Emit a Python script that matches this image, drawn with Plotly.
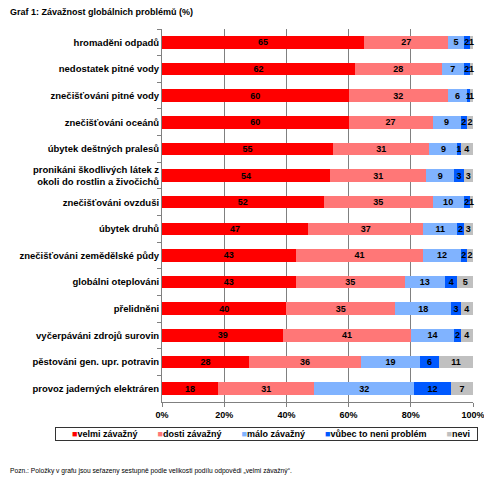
import plotly.graph_objects as go

# položky seřazené podle "velmi závažný"
polozky = [
    "hromadĕni odpadů",
    "nedostatek pitné vody",
    "znečišťováni pitné vody",
    "znečišťováni oceánů",
    "úbytek deštných pralesů",
    "pronikáni škodlivých látek z<br>okoli do rostlin a živočichů",
    "znečišťováni ovzduši",
    "úbytek druhů",
    "znečišťováni zemědělské půdy",
    "globálni oteplováni",
    "přelidnĕni",
    "vyčerpáváni zdrojů surovin",
    "pěstováni gen. upr. potravin",
    "provoz jaderných elektráren",
]

velmi = [65, 62, 60, 60, 55, 54, 52, 47, 43, 43, 40, 39, 28, 18]
dosti = [27, 28, 32, 27, 31, 31, 35, 37, 41, 35, 35, 41, 36, 31]
malo = [5, 7, 6, 9, 9, 9, 10, 11, 12, 13, 18, 14, 19, 32]
vubec = [2, 2, 1, 2, 1, 3, 2, 2, 2, 4, 3, 2, 6, 12]
nevi = [1, 1, 1, 2, 4, 3, 1, 3, 2, 5, 4, 4, 11, 7]

osa_x = [0, 20, 40, 60, 80, 100]
osa_x_popisky = ["0%", "20%", "40%", "60%", "80%", "100%"]

serie = [
    ("velmi závažný", velmi, "#FF0000"),
    ("dosti závažný", dosti, "#FF7777"),
    ("málo závažný", malo, "#80B3FF"),
    ("vůbec to neni problém", vubec, "#0059FF"),
    ("nevi", nevi, "#C0C0C0"),
]

FONT = "Liberation Sans, Arial, sans-serif"

# stránka má okraj 8 px, graf je proto o 8 px menší a posunutý
OKRAJ = 8
W, H = 492 - OKRAJ, 480 - OKRAJ
plot_l, plot_r, plot_t, plot_b = 162 - OKRAJ, 19, 29 - OKRAJ, 78
plot_w = W - plot_l - plot_r
plot_h = H - plot_t - plot_b


def px_x(x):
    return (x - OKRAJ - plot_l) / plot_w


def px_y(y):
    return 1 - (y - OKRAJ - plot_t) / plot_h


fig = go.Figure()

for nazev, hodnoty, barva in serie:
    fig.add_trace(go.Bar(
        y=[f"<b>{p}</b>" for p in polozky],
        x=hodnoty,
        name=nazev,
        orientation="h",
        marker=dict(color=barva, line=dict(width=0)),
        text=[f"<b>{v}</b>" for v in hodnoty],
        textposition="inside",
        insidetextanchor="middle",
        textangle=0,
        constraintext="none",
        textfont=dict(family=FONT, size=9, color="black"),
        cliponaxis=False,
        showlegend=False,
    ))

# legenda v rámečku jako jeden řádek textu
mezera = "&nbsp;" * 8
legenda = mezera.join(
    f"<span style='color:{barva}'>■</span><b>{nazev}</b>" for nazev, _, barva in serie
)

fig.update_layout(
    barmode="stack",
    bargap=0.53,
    width=W,
    height=H,
    paper_bgcolor="white",
    plot_bgcolor="white",
    font=dict(family=FONT, size=9, color="black"),
    margin=dict(l=plot_l, r=plot_r, t=plot_t, b=plot_b),
    uniformtext=dict(minsize=9, mode="show"),
    showlegend=False,
    xaxis=dict(
        range=[0, 100],
        tickvals=osa_x,
        ticktext=[f"<b>{t}</b>" for t in osa_x_popisky],
        tickfont=dict(family=FONT, size=9, color="black"),
        showgrid=True,
        gridcolor="#808080",
        gridwidth=1,
        showline=True,
        linecolor="#808080",
        ticks="outside",
        ticklen=4,
        tickcolor="#808080",
        zeroline=False,
        automargin=False,
        fixedrange=True,
    ),
    yaxis=dict(
        autorange="reversed",
        tickfont=dict(family=FONT, size=9.5, color="black"),
        showline=True,
        linecolor="#808080",
        ticks="outside",
        tickson="boundaries",
        ticklen=4,
        tickcolor="#808080",
        showgrid=False,
        automargin=False,
        fixedrange=True,
    ),
    annotations=[
        dict(
            text="<b>Graf 1: Závažnost globálnich problémů (%)</b>",
            x=px_x(8), y=px_y(12), xref="paper", yref="paper",
            xanchor="left", yanchor="middle", showarrow=False,
            font=dict(family=FONT, size=9, color="black"),
        ),
        dict(
            text="&nbsp;" * 6 + legenda,
            x=px_x(55), y=px_y(427), xref="paper", yref="paper",
            xanchor="left", yanchor="top", showarrow=False,
            width=419, align="left",
            bordercolor="#333333", borderwidth=1, borderpad=1,
            font=dict(family=FONT, size=9, color="black"),
        ),
        dict(
            text="Pozn.: Položky v grafu jsou seřazeny sestupně podle velikosti podílu odpovědi „velmi závažný“.",
            x=px_x(8), y=px_y(471), xref="paper", yref="paper",
            xanchor="left", yanchor="middle", showarrow=False,
            font=dict(family=FONT, size=6.7, color="black"),
        ),
    ],
)

fig.write_html("out.html")
